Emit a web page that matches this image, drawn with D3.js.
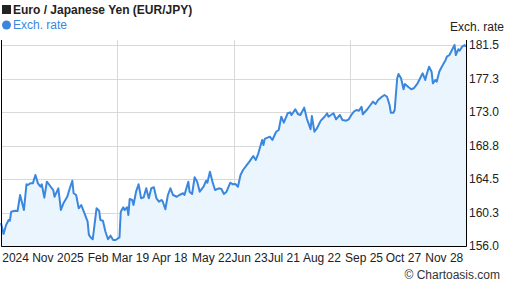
<!DOCTYPE html>
<html>
<head>
<meta charset="utf-8">
<script src="https://cdnjs.cloudflare.com/ajax/libs/d3/7.8.5/d3.min.js"></script>
<style>
    html, body { margin: 0; padding: 0; background: #fff; }
    svg { display: block; font-family: "Liberation Sans", Arial, sans-serif; }
</style>
</head>
<body>
<svg id="chart" width="507" height="288"></svg>
<script>
'use strict';

let LINE = "#3b87de",
    FILL = "#ebf5fe",
    GRID = "#d9d9d9";

// days since 2024-11-28 and the EUR/JPY rate
let days = [0, 2, 4, 6, 7, 8, 11, 13, 15, 16, 18, 20, 21, 23, 25, 27, 29, 31, 32, 34,
    36, 38, 41, 42, 45, 47, 49, 52, 54, 56, 57, 59, 61, 63, 65, 68, 69, 71, 72, 75,
    77, 78, 80, 82, 84, 86, 88, 90, 93,
    94, 96, 97, 99, 100, 101, 103, 104, 106, 108, 110, 112, 114, 116, 118, 120, 122, 124, 126, 127,
    129, 131, 133, 135, 138, 140, 143, 144, 147, 148, 150, 152, 154, 156, 159, 161, 162, 164, 166, 168,
    171, 173, 175, 177, 180, 182, 184, 186,
    188, 190, 193, 195, 198, 200, 202, 205, 206, 207, 211, 213, 216, 218, 220, 222, 225, 227, 228, 231,
    233, 235, 238, 240, 243, 244, 246, 248, 251, 254, 256, 257, 261, 263, 266, 268, 271, 273,
    275, 277, 279, 281, 283, 284, 287, 290, 292, 294, 296, 299, 301, 303, 305, 306, 308, 309,
    311, 312, 314, 316, 317, 320, 322, 324, 327, 329, 331, 333, 334, 336, 338, 339, 341, 342,
    344, 346, 349, 350, 352, 354, 356, 357, 359, 360, 362, 364, 365];

let rates = [158.92, 157.52, 158.66, 159.30, 159.21, 160.35, 160.48, 160.44, 162.47, 161.84, 160.57, 163.83, 163.74, 163.95, 163.95, 165.01, 163.95, 163.52, 163.83, 162.13,
    164.16, 163.74, 163.10, 162.25, 163.32, 160.57, 161.42, 162.25, 163.32, 164.28, 162.69, 162.47, 160.78, 161.20, 160.35, 159.08, 157.40, 156.98, 156.85, 160.78,
    160.48, 159.30, 159.21, 157.81, 156.85, 157.31, 156.76, 156.76, 157.10,
    160.35, 160.91, 160.57, 160.91, 159.93, 161.96, 161.84, 161.20, 162.89, 163.83, 162.05, 162.18, 163.32, 162.05, 163.32, 163.45, 162.05, 161.62, 161.84, 161.62,
    160.66, 162.47, 163.32, 162.47, 162.25, 162.47, 162.69, 162.47, 164.16, 162.89, 162.60, 164.72, 164.16, 162.89, 163.52, 164.28, 164.03, 165.43, 164.16, 163.10,
    163.32, 163.23, 162.60, 162.89, 164.03, 163.83, 163.87, 163.52,
    165.01, 165.64, 166.28, 166.70, 167.42, 166.91, 167.76, 169.45, 168.81, 169.58, 169.87, 169.45, 170.50, 170.72, 172.40, 171.64, 172.84, 172.96, 172.62, 173.34,
    172.75, 172.62, 173.55, 172.20, 170.81, 172.49, 170.50, 170.93, 171.90, 172.40, 172.84, 172.40, 172.84, 172.07, 172.62, 171.99, 171.90, 172.07,
    172.62, 173.04, 173.25, 173.17, 173.67, 172.71, 173.25, 173.89, 174.31, 174.02, 174.52, 174.94, 175.16, 174.94, 173.89, 172.91, 172.91, 173.25,
    177.28, 177.82, 177.28, 175.88, 176.55, 176.13, 175.88, 176.01, 176.64, 177.28, 177.91, 177.06, 177.69, 178.75, 178.11, 176.64, 177.06, 176.85,
    178.11, 178.75, 179.60, 180.02, 180.23, 180.87, 181.50, 180.23, 180.96, 180.78, 181.29, 181.50, 181.29];

let yTicks = [156, 160.25, 164.5, 168.75, 173, 177.25, 181.5];

let xLabels = ["2024", "Nov", "2025", "Feb", "Mar 19", "Apr 18", "May 22", "Jun 23", "Jul 21", "Aug 22", "Sep 25", "Oct 27", "Nov 28"],
    xLabelDays = [1, 24.5, 44, 68, 87, 118.5, 150, 181, 209.5, 237, 270, 302, 333];

let svg = d3.select("#chart"),
    plotLeft = 1,
    plotRight = 466,
    plotTop = 40,
    plotBottom = 246;

let x = d3.scaleLinear().domain([0, 365]).range([plotLeft, plotRight]),
    y = d3.scaleLinear().domain([156, 181.5]).range([plotBottom, 45]);

let points = days.map(function(d, i) { return {day: d, rate: rates[i]}; });

// horizontal grid
svg.append("g")
    .selectAll("line")
    .data(yTicks)
    .enter().append("line")
    .attr("x1", plotLeft).attr("x2", plotRight)
    .attr("y1", function(d) { return Math.round(y(d)) + 0.5; })
    .attr("y2", function(d) { return Math.round(y(d)) + 0.5; })
    .style("stroke", GRID);

// vertical grid at the quarters
svg.append("g")
    .selectAll("line")
    .data(d3.range(1, 4).map(function(i) { return 365 * i / 4; }))
    .enter().append("line")
    .attr("x1", function(d) { return Math.round(x(d)) + 0.5; })
    .attr("x2", function(d) { return Math.round(x(d)) + 0.5; })
    .attr("y1", plotTop).attr("y2", plotBottom)
    .style("stroke", GRID);

let area = d3.area()
    .x(function(d) { return x(d.day); })
    .y0(plotBottom)
    .y1(function(d) { return y(d.rate); });

let line = d3.line()
    .x(function(d) { return x(d.day); })
    .y(function(d) { return y(d.rate); });

svg.append("path")
    .datum(points)
    .attr("d", area)
    .style("fill", FILL);

svg.append("path")
    .datum(points)
    .attr("d", line)
    .style("fill", "none")
    .style("stroke", LINE)
    .style("stroke-width", 2)
    .style("stroke-linejoin", "round");

// frame: left, bottom and right axis lines
svg.append("path")
    .attr("d", "M" + (plotLeft + 0.5) + "," + plotTop + "V" + (plotBottom + 0.5) + "H" + (plotRight + 0.5) + "V" + plotTop)
    .style("fill", "none")
    .style("stroke", "#000");

// right axis labels
svg.append("g")
    .selectAll("text")
    .data(yTicks)
    .enter().append("text")
    .attr("x", plotRight + 3)
    .attr("y", function(d) { return y(d); })
    .attr("dy", "0.35em")
    .style("font-size", "12px")
    .style("fill", "#222")
    .text(d3.format(".1f"));

svg.append("text")
    .attr("x", 504).attr("y", 31)
    .attr("text-anchor", "end")
    .style("font-size", "12px")
    .style("fill", "#222")
    .text("Exch. rate");

// bottom labels
svg.append("g")
    .selectAll("text")
    .data(xLabels)
    .enter().append("text")
    .attr("x", function(d, i) { return x(xLabelDays[i]); })
    .attr("y", 262)
    .style("font-size", "12px")
    .style("fill", "#222")
    .text(function(d) { return d; });

// title + legend
svg.append("rect")
    .attr("x", 2).attr("y", 5).attr("width", 9).attr("height", 9)
    .style("fill", "#222");

svg.append("text")
    .attr("x", 13).attr("y", 14)
    .style("font-size", "12px")
    .style("font-weight", "bold")
    .style("fill", "#222")
    .text("Euro / Japanese Yen (EUR/JPY)");

svg.append("circle")
    .attr("cx", 6.5).attr("cy", 25).attr("r", 4.5)
    .style("fill", LINE);

svg.append("text")
    .attr("x", 13).attr("y", 29)
    .style("font-size", "12px")
    .style("fill", LINE)
    .text("Exch. rate");

svg.append("text")
    .attr("x", 500).attr("y", 279)
    .attr("text-anchor", "end")
    .style("font-size", "12px")
    .style("fill", "#333")
    .text("\u00a9 Chartoasis.com");
</script>
</body>
</html>
